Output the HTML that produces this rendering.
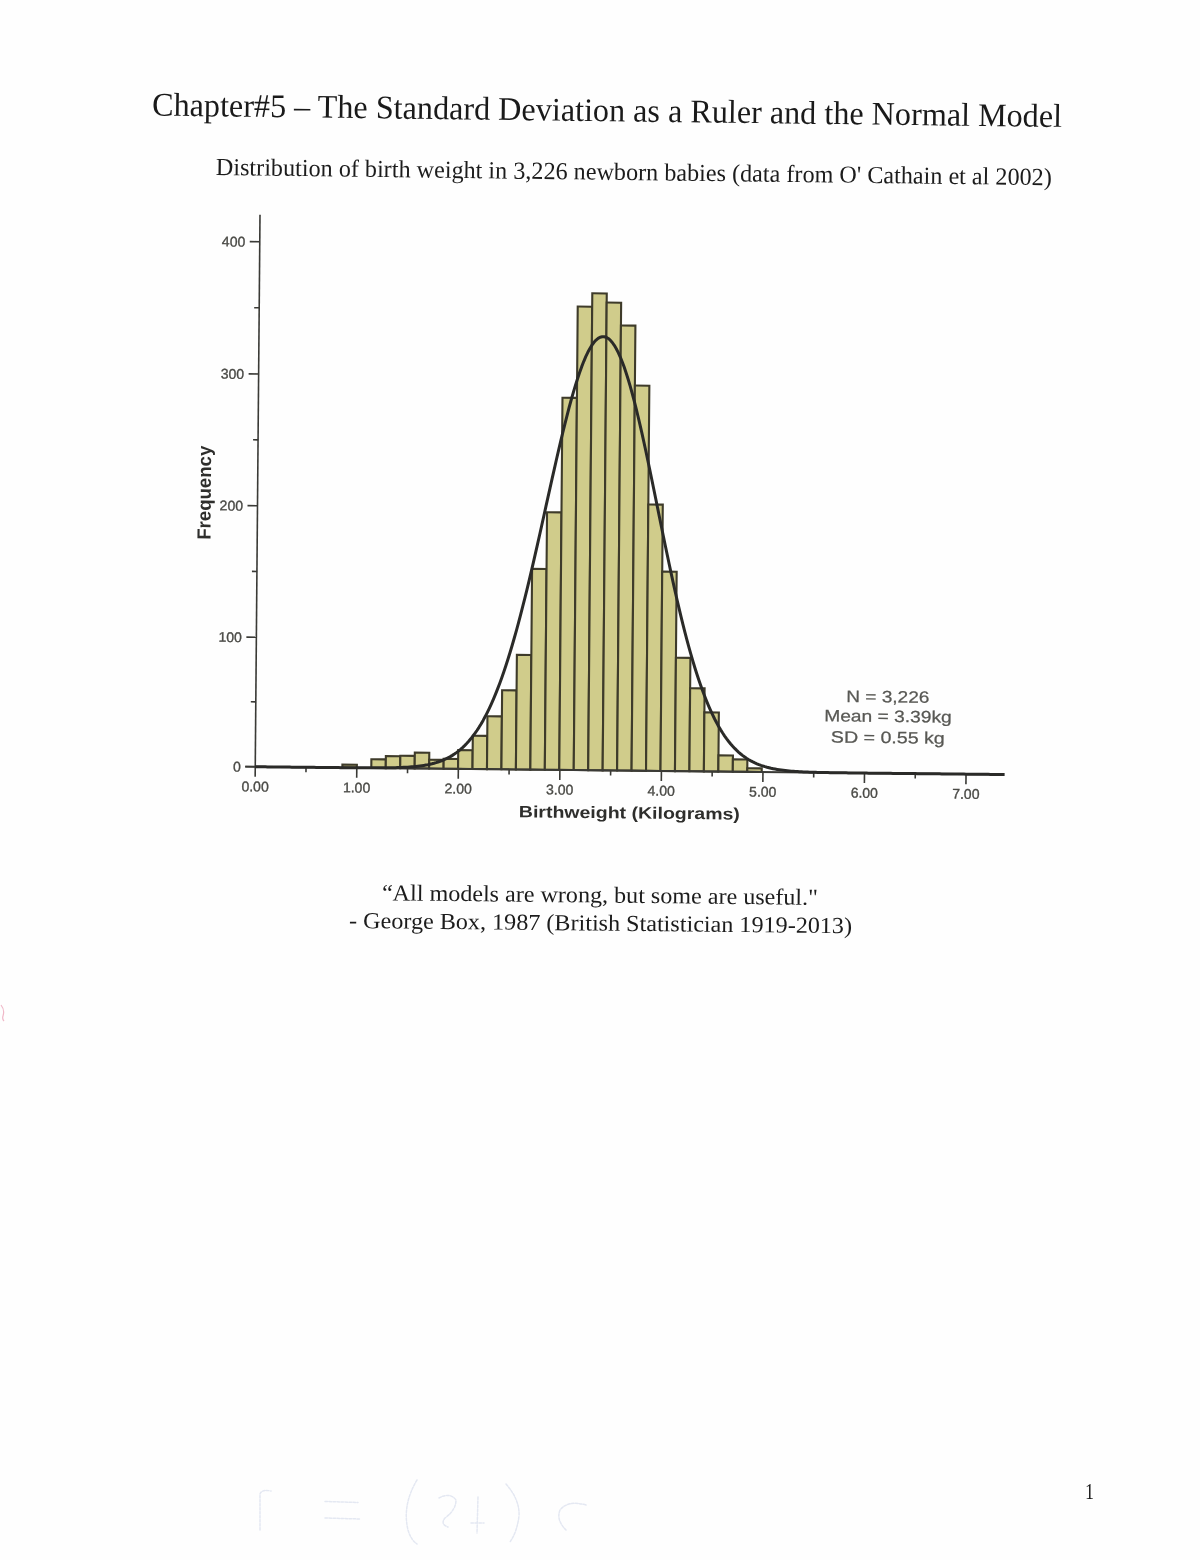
<!DOCTYPE html>
<html><head><meta charset="utf-8"><title>Chapter 5</title>
<style>
html,body{margin:0;padding:0;background:#ffffff;}
body{width:1200px;height:1560px;overflow:hidden;position:relative;}
svg{position:absolute;left:0;top:0;display:block;filter:blur(0.45px);}
</style></head>
<body>
<svg width="1200" height="1560" viewBox="0 0 1200 1560">
<rect width="1200" height="1560" fill="#fefefe"/>
<text id="t_title" transform="translate(152.0,115.5) rotate(0.72)" font-family="Liberation Serif, serif" font-size="33" textLength="910" lengthAdjust="spacingAndGlyphs" fill="#1a1a1a">Chapter#5 – The Standard Deviation as a Ruler and the Normal Model</text>
<text id="t_sub" transform="translate(215.8,175.0) rotate(0.70)" font-family="Liberation Serif, serif" font-size="24.5" textLength="836" lengthAdjust="spacingAndGlyphs" fill="#1c1c1c">Distribution of birth weight in 3,226 newborn babies (data from O' Cathain et al 2002)</text>

<g transform="matrix(1 0.0104 -0.0086 1 255.25 766.75)">
  <g fill="#d0cc8b" stroke="#3e3b2a" stroke-width="2.1">
<rect x="87.13" y="-2.98" width="14.46" height="2.98"/>
<rect x="116.05" y="-8.73" width="14.46" height="8.73"/>
<rect x="130.51" y="-11.98" width="14.46" height="11.98"/>
<rect x="144.97" y="-12.53" width="14.46" height="12.53"/>
<rect x="159.43" y="-15.78" width="14.46" height="15.78"/>
<rect x="173.89" y="-8.83" width="14.46" height="8.83"/>
<rect x="188.35" y="-9.88" width="14.46" height="9.88"/>
<rect x="202.81" y="-18.73" width="14.46" height="18.73"/>
<rect x="217.27" y="-33.28" width="14.46" height="33.28"/>
<rect x="231.73" y="-52.93" width="14.46" height="52.93"/>
<rect x="246.19" y="-79.08" width="14.46" height="79.08"/>
<rect x="260.65" y="-114.53" width="14.46" height="114.53"/>
<rect x="275.11" y="-200.77" width="14.46" height="200.77"/>
<rect x="289.57" y="-257.51" width="14.46" height="257.51"/>
<rect x="304.03" y="-372.15" width="14.46" height="372.15"/>
<rect x="318.49" y="-463.50" width="14.46" height="463.50"/>
<rect x="332.95" y="-476.90" width="14.46" height="476.90"/>
<rect x="347.41" y="-467.80" width="14.46" height="467.80"/>
<rect x="361.87" y="-445.00" width="14.46" height="445.00"/>
<rect x="376.33" y="-385.10" width="14.46" height="385.10"/>
<rect x="390.79" y="-266.37" width="14.46" height="266.37"/>
<rect x="405.25" y="-199.32" width="14.46" height="199.32"/>
<rect x="419.71" y="-113.38" width="14.46" height="113.38"/>
<rect x="434.17" y="-83.03" width="14.46" height="83.03"/>
<rect x="448.63" y="-58.99" width="14.46" height="58.99"/>
<rect x="463.09" y="-16.24" width="14.46" height="16.24"/>
<rect x="477.55" y="-12.39" width="14.46" height="12.39"/>
<rect x="492.01" y="-3.64" width="14.46" height="3.64"/>
  </g>
  <g stroke="#3a3a36" stroke-width="1.6" fill="none">
    <line x1="0" y1="-552" x2="0" y2="0"/>
    <line x1="-10" y1="0" x2="748.5" y2="0" stroke-width="1.9"/>
<line x1="-10" y1="0.00" x2="0" y2="0.00"/>
<line x1="-5" y1="-64.90" x2="0" y2="-64.90"/>
<line x1="-10" y1="-129.50" x2="0" y2="-129.50"/>
<line x1="-5" y1="-195.30" x2="0" y2="-195.30"/>
<line x1="-10" y1="-261.00" x2="0" y2="-261.00"/>
<line x1="-5" y1="-326.90" x2="0" y2="-326.90"/>
<line x1="-10" y1="-392.80" x2="0" y2="-392.80"/>
<line x1="-5" y1="-459.00" x2="0" y2="-459.00"/>
<line x1="-10" y1="-525.00" x2="0" y2="-525.00"/>
<line x1="0.00" y1="0" x2="0.00" y2="10"/>
<line x1="50.77" y1="0" x2="50.77" y2="5"/>
<line x1="101.54" y1="0" x2="101.54" y2="10"/>
<line x1="152.31" y1="0" x2="152.31" y2="5"/>
<line x1="203.08" y1="0" x2="203.08" y2="10"/>
<line x1="253.85" y1="0" x2="253.85" y2="5"/>
<line x1="304.62" y1="0" x2="304.62" y2="10"/>
<line x1="355.39" y1="0" x2="355.39" y2="5"/>
<line x1="406.16" y1="0" x2="406.16" y2="10"/>
<line x1="456.93" y1="0" x2="456.93" y2="5"/>
<line x1="507.70" y1="0" x2="507.70" y2="10"/>
<line x1="558.47" y1="0" x2="558.47" y2="5"/>
<line x1="609.24" y1="0" x2="609.24" y2="10"/>
<line x1="660.01" y1="0" x2="660.01" y2="5"/>
<line x1="710.78" y1="0" x2="710.78" y2="10"/>
  </g>
  <polyline points="0.00,-0.00 2.03,-0.00 4.06,-0.00 6.09,-0.00 8.12,-0.00 10.15,-0.00 12.18,-0.00 14.22,-0.00 16.25,-0.00 18.28,-0.00 20.31,-0.00 22.34,-0.00 24.37,-0.00 26.40,-0.00 28.43,-0.00 30.46,-0.00 32.49,-0.00 34.52,-0.00 36.55,-0.00 38.59,-0.00 40.62,-0.00 42.65,-0.00 44.68,-0.00 46.71,-0.00 48.74,-0.00 50.77,-0.00 52.80,-0.00 54.83,-0.00 56.86,-0.00 58.89,-0.00 60.92,-0.00 62.95,-0.00 64.99,-0.00 67.02,-0.00 69.05,-0.00 71.08,-0.00 73.11,-0.00 75.14,-0.00 77.17,-0.00 79.20,-0.01 81.23,-0.01 83.26,-0.01 85.29,-0.01 87.32,-0.01 89.36,-0.01 91.39,-0.02 93.42,-0.02 95.45,-0.02 97.48,-0.03 99.51,-0.03 101.54,-0.03 103.57,-0.04 105.60,-0.05 107.63,-0.05 109.66,-0.06 111.69,-0.07 113.72,-0.09 115.76,-0.10 117.79,-0.12 119.82,-0.14 121.85,-0.16 123.88,-0.18 125.91,-0.21 127.94,-0.24 129.97,-0.28 132.00,-0.32 134.03,-0.36 136.06,-0.42 138.09,-0.48 140.13,-0.55 142.16,-0.62 144.19,-0.71 146.22,-0.81 148.25,-0.92 150.28,-1.04 152.31,-1.18 154.34,-1.34 156.37,-1.51 158.40,-1.71 160.43,-1.93 162.46,-2.17 164.49,-2.44 166.53,-2.75 168.56,-3.08 170.59,-3.45 172.62,-3.86 174.65,-4.32 176.68,-4.82 178.71,-5.37 180.74,-5.98 182.77,-6.64 184.80,-7.38 186.83,-8.18 188.86,-9.05 190.90,-10.01 192.93,-11.05 194.96,-12.19 196.99,-13.43 199.02,-14.77 201.05,-16.22 203.08,-17.79 205.11,-19.49 207.14,-21.33 209.17,-23.30 211.20,-25.43 213.23,-27.71 215.26,-30.16 217.30,-32.78 219.33,-35.58 221.36,-38.57 223.39,-41.75 225.42,-45.14 227.45,-48.74 229.48,-52.55 231.51,-56.59 233.54,-60.86 235.57,-65.36 237.60,-70.11 239.63,-75.10 241.67,-80.34 243.70,-85.83 245.73,-91.57 247.76,-97.57 249.79,-103.83 251.82,-110.34 253.85,-117.11 255.88,-124.12 257.91,-131.39 259.94,-138.89 261.97,-146.63 264.00,-154.59 266.03,-162.77 268.07,-171.16 270.10,-179.74 272.13,-188.51 274.16,-197.44 276.19,-206.51 278.22,-215.73 280.25,-225.05 282.28,-234.47 284.31,-243.95 286.34,-253.49 288.37,-263.05 290.40,-272.61 292.44,-282.15 294.47,-291.63 296.50,-301.04 298.53,-310.33 300.56,-319.49 302.59,-328.49 304.62,-337.29 306.65,-345.87 308.68,-354.20 310.71,-362.26 312.74,-370.00 314.77,-377.41 316.80,-384.47 318.84,-391.13 320.87,-397.39 322.90,-403.21 324.93,-408.58 326.96,-413.47 328.99,-417.87 331.02,-421.75 333.05,-425.11 335.08,-427.93 337.11,-430.20 339.14,-431.91 341.17,-433.06 343.21,-433.63 345.24,-433.63 347.27,-433.06 349.30,-431.91 351.33,-430.20 353.36,-427.93 355.39,-425.11 357.42,-421.75 359.45,-417.87 361.48,-413.47 363.51,-408.58 365.54,-403.21 367.57,-397.39 369.61,-391.13 371.64,-384.47 373.67,-377.41 375.70,-370.00 377.73,-362.26 379.76,-354.20 381.79,-345.87 383.82,-337.29 385.85,-328.49 387.88,-319.49 389.91,-310.33 391.94,-301.04 393.98,-291.63 396.01,-282.15 398.04,-272.61 400.07,-263.05 402.10,-253.49 404.13,-243.95 406.16,-234.47 408.19,-225.05 410.22,-215.73 412.25,-206.51 414.28,-197.44 416.31,-188.51 418.34,-179.74 420.38,-171.16 422.41,-162.77 424.44,-154.59 426.47,-146.63 428.50,-138.89 430.53,-131.39 432.56,-124.12 434.59,-117.11 436.62,-110.34 438.65,-103.83 440.68,-97.57 442.71,-91.57 444.75,-85.83 446.78,-80.34 448.81,-75.10 450.84,-70.11 452.87,-65.36 454.90,-60.86 456.93,-56.59 458.96,-52.55 460.99,-48.74 463.02,-45.14 465.05,-41.75 467.08,-38.57 469.11,-35.58 471.15,-32.78 473.18,-30.16 475.21,-27.71 477.24,-25.43 479.27,-23.30 481.30,-21.33 483.33,-19.49 485.36,-17.79 487.39,-16.22 489.42,-14.77 491.45,-13.43 493.48,-12.19 495.52,-11.05 497.55,-10.01 499.58,-9.05 501.61,-8.18 503.64,-7.38 505.67,-6.64 507.70,-5.98 509.73,-5.37 511.76,-4.82 513.79,-4.32 515.82,-3.86 517.85,-3.45 519.88,-3.08 521.92,-2.75 523.95,-2.44 525.98,-2.17 528.01,-1.93 530.04,-1.71 532.07,-1.51 534.10,-1.34 536.13,-1.18 538.16,-1.04 540.19,-0.92 542.22,-0.81 544.25,-0.71 546.29,-0.62 548.32,-0.55 550.35,-0.48 552.38,-0.42 554.41,-0.36 556.44,-0.32 558.47,-0.28 560.50,-0.24 562.53,-0.21 564.56,-0.18 566.59,-0.16 568.62,-0.14 570.65,-0.12 572.69,-0.10 574.72,-0.09 576.75,-0.07 578.78,-0.06 580.81,-0.05 582.84,-0.05 584.87,-0.04 586.90,-0.03 588.93,-0.03 590.96,-0.03 592.99,-0.02 595.02,-0.02 597.06,-0.02 599.09,-0.01 601.12,-0.01 603.15,-0.01 605.18,-0.01 607.21,-0.01 609.24,-0.01 611.27,-0.00 613.30,-0.00 615.33,-0.00 617.36,-0.00 619.39,-0.00 621.42,-0.00 623.46,-0.00 625.49,-0.00 627.52,-0.00 629.55,-0.00 631.58,-0.00 633.61,-0.00 635.64,-0.00 637.67,-0.00 639.70,-0.00 641.73,-0.00 643.76,-0.00 645.79,-0.00 647.83,-0.00 649.86,-0.00 651.89,-0.00 653.92,-0.00 655.95,-0.00 657.98,-0.00 660.01,-0.00 662.04,-0.00 664.07,-0.00 666.10,-0.00 668.13,-0.00 670.16,-0.00 672.19,-0.00 674.23,-0.00 676.26,-0.00 678.29,-0.00 680.32,-0.00 682.35,-0.00 684.38,-0.00 686.41,-0.00 688.44,-0.00 690.47,-0.00 692.50,-0.00 694.53,-0.00 696.56,-0.00 698.60,-0.00 700.63,-0.00 702.66,-0.00 704.69,-0.00 706.72,-0.00 708.75,-0.00 710.78,-0.00 712.81,-0.00 714.84,-0.00 716.87,-0.00 718.90,-0.00 720.93,-0.00 722.96,-0.00 725.00,-0.00 727.03,-0.00 729.06,-0.00 731.09,-0.00 733.12,-0.00 735.15,-0.00 737.18,-0.00 739.21,-0.00 741.24,-0.00 743.27,-0.00 745.30,-0.00 747.33,-0.00 749.37,-0.00" fill="none" stroke="#2a2a28" stroke-width="3.0" stroke-linejoin="round"/>
  <g font-family="Liberation Sans, sans-serif" font-size="14" fill="#4a4a46" stroke="#4a4a46" stroke-width="0.35">
<text x="-14.5" y="5.00" text-anchor="end">0</text>
<text x="-14.5" y="-124.50" text-anchor="end">100</text>
<text x="-14.5" y="-256.00" text-anchor="end">200</text>
<text x="-14.5" y="-387.80" text-anchor="end">300</text>
<text x="-14.5" y="-520.00" text-anchor="end">400</text>
<text x="0.00" y="24.6" text-anchor="middle">0.00</text>
<text x="101.54" y="24.6" text-anchor="middle">1.00</text>
<text x="203.08" y="24.6" text-anchor="middle">2.00</text>
<text x="304.62" y="24.6" text-anchor="middle">3.00</text>
<text x="406.16" y="24.6" text-anchor="middle">4.00</text>
<text x="507.70" y="24.6" text-anchor="middle">5.00</text>
<text x="609.24" y="24.6" text-anchor="middle">6.00</text>
<text x="710.78" y="24.6" text-anchor="middle">7.00</text>
  </g>
  <g font-family="Liberation Sans, sans-serif" font-size="16.5" fill="#585854" stroke="#585854" stroke-width="0.25">
    <text id="t_l1" x="590.5" y="-70.9" textLength="83" lengthAdjust="spacingAndGlyphs">N = 3,226</text>
    <text id="t_l2" x="568.5" y="-51.400000000000006" textLength="127.5" lengthAdjust="spacingAndGlyphs">Mean = 3.39kg</text>
    <text id="t_l3" x="575.3" y="-30.15" textLength="114.0" lengthAdjust="spacingAndGlyphs">SD = 0.55 kg</text>
  </g>
  <text id="t_xl" x="264.0" y="47.8" textLength="221" lengthAdjust="spacingAndGlyphs" font-family="Liberation Sans, sans-serif" font-weight="bold" font-size="16.5" fill="#2e2e2c">Birthweight (Kilograms)</text>
  <text id="t_yl" transform="translate(-46.8,-226.5) rotate(-90)" textLength="94" lengthAdjust="spacingAndGlyphs" font-family="Liberation Sans, sans-serif" font-weight="bold" font-size="19" fill="#2e2e2c">Frequency</text>
</g>

<text id="t_q1" transform="translate(381.9,900.3) rotate(0.6)" font-family="Liberation Serif, serif" font-size="23" textLength="436" lengthAdjust="spacingAndGlyphs" fill="#1c1c1c">“All models are wrong, but some are useful."</text>
<text id="t_q2" transform="translate(349.0,928.0) rotate(0.6)" font-family="Liberation Serif, serif" font-size="23" textLength="503" lengthAdjust="spacingAndGlyphs" fill="#1c1c1c">- George Box, 1987 (British Statistician 1919-2013)</text>
<text id="t_pn" transform="translate(1089.6,1498.8) scale(0.78,1)" x="0" y="0" text-anchor="middle" font-family="Liberation Serif, serif" font-size="23.2" fill="#1c1c1c">1</text>
<g fill="none" stroke="#e4e8f2" stroke-width="1.5" stroke-linecap="round" stroke-dasharray="2.5 1.5">
  <path d="M260,1530 L260,1494 Q262,1489 271,1491"/>
  <path d="M325,1501.5 L358,1502.5 M325,1518 L360,1519"/>
  <path d="M417,1480 Q402,1505 408,1530 Q411,1540 417,1544"/>
  <path d="M439,1498 Q450,1492 456,1500 Q456,1510 445,1518 Q440,1524 448,1527"/>
  <path d="M478,1497 L477,1533 M471,1523 L484,1523"/>
  <path d="M506,1484 Q520,1500 519,1516 Q517,1532 510,1542"/>
  <path d="M586,1505 Q568,1500 560,1510 Q556,1520 566,1530"/>
</g>
<path d="M1,1005 Q5,1010 3,1016 Q2,1019 4,1021" fill="none" stroke="#f0b8c8" stroke-width="1.2"/>
</svg>
</body></html>
